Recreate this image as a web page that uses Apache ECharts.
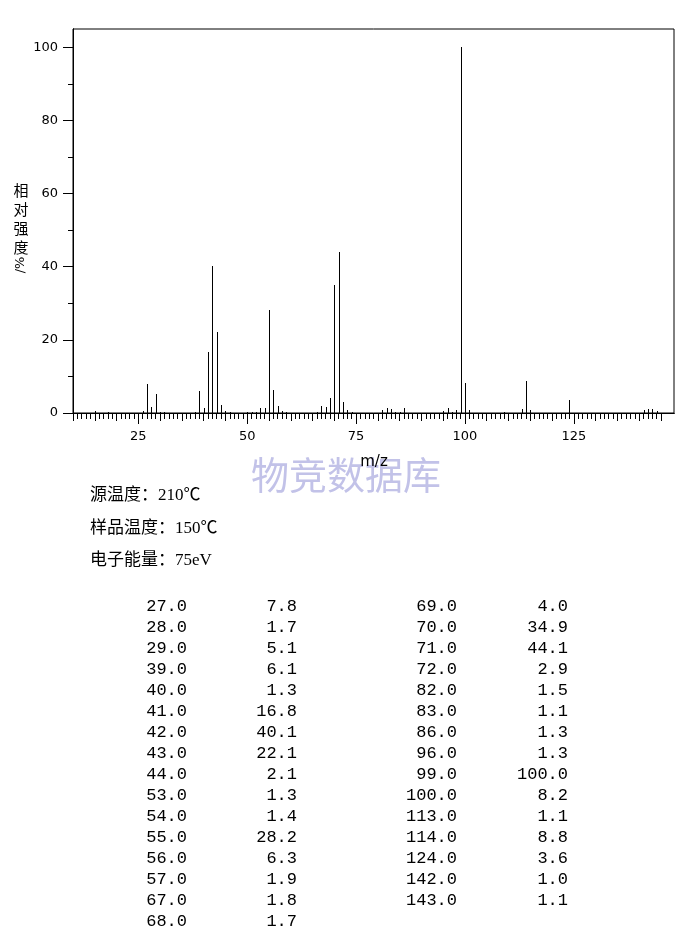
<!DOCTYPE html>
<html>
<head>
<meta charset="utf-8">
<script src="https://cdn.jsdelivr.net/npm/echarts@6/dist/echarts.min.js"></script>
<style>
html,body{margin:0;padding:0;background:#fff;}
#chart{width:696px;height:950px;}
</style>
</head>
<body>
<div id="chart"></div>
<script>
// Peaks listed in the table (m/z, relative intensity %)
var tableMz = [27,28,29,39,40,41,42,43,44,53,54,55,56,57,67,68,69,70,71,72,82,83,86,96,99,100,113,114,124,142,143];
var tableInt = [7.8,1.7,5.1,6.1,1.3,16.8,40.1,22.1,2.1,1.3,1.4,28.2,6.3,1.9,1.8,1.7,4.0,34.9,44.1,2.9,1.5,1.1,1.3,1.3,100.0,8.2,1.1,8.8,3.6,1.0,1.1];
// Small peaks (< 1 %)
var smallMz = [15,18,26,30,31,38,45,46,50,51,52,58,59,66,73,74,81,84,85,95,97,98,101,109,115,141,144];
var smallInt = [0.5,0.3,0.6,0.4,0.4,0.4,0.6,0.3,0.3,0.3,0.3,0.6,0.4,0.3,0.7,0.3,0.7,0.3,0.3,0.5,0.3,0.8,0.7,0.3,0.8,0.8,0.6];
// Axis ticks
var xLabelValues = [25,50,75,100,125];
var yLabelValues = [0,20,40,60,80,100];
var yMinorValues = [10,30,50,70,90];
var xTickStart = 10, xTickEnd = 145;
// Text
var infoLines = ['源温度：210℃','样品温度：150℃','电子能量：75eV'];
var yNameChars = '相\n对\n强\n度';
var yNameTail = '/%';
var xName = 'm/z';
var watermark = '物竞数据库';

var xMinor = [], xMid = [];
for (var v = xTickStart; v <= xTickEnd; v++) {
  if (v % 25 === 0) continue;
  if (v % 5 === 0) xMid.push(v); else xMinor.push(v);
}

var peakData = [];
for (var i = 0; i < tableMz.length; i++) peakData.push([tableMz[i], tableInt[i]]);
for (var j = 0; j < smallMz.length; j++) peakData.push([smallMz[j], smallInt[j]]);

var chart = echarts.init(document.getElementById('chart'), null, {renderer:'canvas'});

var lbl = {fontFamily:'DejaVu Sans', fontSize:13, color:'#000'};
function xAxisBase(extra) {
  return Object.assign({
    type:'value', gridIndex:0, position:'bottom', min:10, max:148,
    axisLine:{show:true, onZero:false, lineStyle:{color:'#000', width:1}},
    splitLine:{show:false}
  }, extra);
}
function yAxisBase(extra) {
  return Object.assign({
    type:'value', gridIndex:0, position:'left', min:0, max:105,
    axisLine:{show:true, onZero:false, lineStyle:{color:'#000', width:1}},
    splitLine:{show:false}
  }, extra);
}

var graphics = [];
// watermark
graphics.push({type:'text', left:251, top:456, z:1,
  style:{text:watermark, font:'38px "Noto Sans CJK SC"', fill:'#c2c2e8'}});
// x name
graphics.push({type:'text', x:374, y:462, z:10,
  style:{text:xName, font:'15px "DejaVu Sans"', fill:'#000', textAlign:'center', textVerticalAlign:'middle'}});
// y name
graphics.push({type:'text', x:21, y:181, z:10,
  style:{text:yNameChars, font:'15px "Noto Sans CJK SC"', lineHeight:19, fill:'#000', textAlign:'center', textVerticalAlign:'top'}});
graphics.push({type:'text', x:21, y:265, rotation:Math.PI/2, z:10,
  style:{text:yNameTail, font:'13px "DejaVu Sans"', fill:'#000', textAlign:'center', textVerticalAlign:'middle'}});
// info lines
for (var k = 0; k < infoLines.length; k++) {
  graphics.push({type:'text', x:90, y:496 + k*32.5,
    style:{text:infoLines[k], font:'17px "Liberation Serif","Noto Sans CJK SC"', fill:'#000', textVerticalAlign:'middle'}});
}
// table
var half = 16;
var colRight = [187, 297, 457, 568];
for (var r = 0; r < tableMz.length; r++) {
  var side = r < half ? 0 : 1;
  var row = r < half ? r : r - half;
  var yy = 606 + row * 21;
  graphics.push({type:'text', x:colRight[side*2], y:yy,
    style:{text:tableMz[r].toFixed(1), font:'17px "Liberation Mono"', fill:'#000', textAlign:'right', textVerticalAlign:'middle'}});
  graphics.push({type:'text', x:colRight[side*2+1], y:yy,
    style:{text:tableInt[r].toFixed(1), font:'17px "Liberation Mono"', fill:'#000', textAlign:'right', textVerticalAlign:'middle'}});
}

chart.setOption({
  animation:false,
  backgroundColor:'#fff',
  grid:{left:73, right:22, top:29, bottom:537, show:true, borderColor:'#000', borderWidth:1, backgroundColor:'transparent'},
  xAxis:[
    xAxisBase({axisTick:{show:true, customValues:xMinor, length:6, lineStyle:{color:'#000'}}, axisLabel:{show:false}}),
    xAxisBase({axisTick:{show:true, customValues:xMid, length:8, lineStyle:{color:'#000'}}, axisLabel:{show:false}}),
    xAxisBase({axisTick:{show:true, customValues:xLabelValues, length:11, lineStyle:{color:'#000'}},
      axisLabel:Object.assign({show:true, customValues:xLabelValues, margin:17}, lbl)})
  ],
  yAxis:[
    yAxisBase({axisTick:{show:true, customValues:yMinorValues, length:5, lineStyle:{color:'#000'}}, axisLabel:{show:false}}),
    yAxisBase({axisTick:{show:true, customValues:yLabelValues, length:10, lineStyle:{color:'#000'}},
      axisLabel:Object.assign({show:true, customValues:yLabelValues, margin:15}, lbl)})
  ],
  series:[{
    type:'custom', xAxisIndex:0, yAxisIndex:0, z:5,
    data:peakData,
    renderItem:function(params, api){
      var p0 = api.coord([api.value(0), 0]);
      var p1 = api.coord([api.value(0), api.value(1)]);
      var x = Math.round(p0[0]) + 0.5;
      return {type:'line', shape:{x1:x, y1:Math.round(p0[1]), x2:x, y2:Math.round(p1[1])},
        style:{stroke:'#000', lineWidth:1}};
    }
  }],
  graphic:graphics
});
</script>
</body>
</html>
